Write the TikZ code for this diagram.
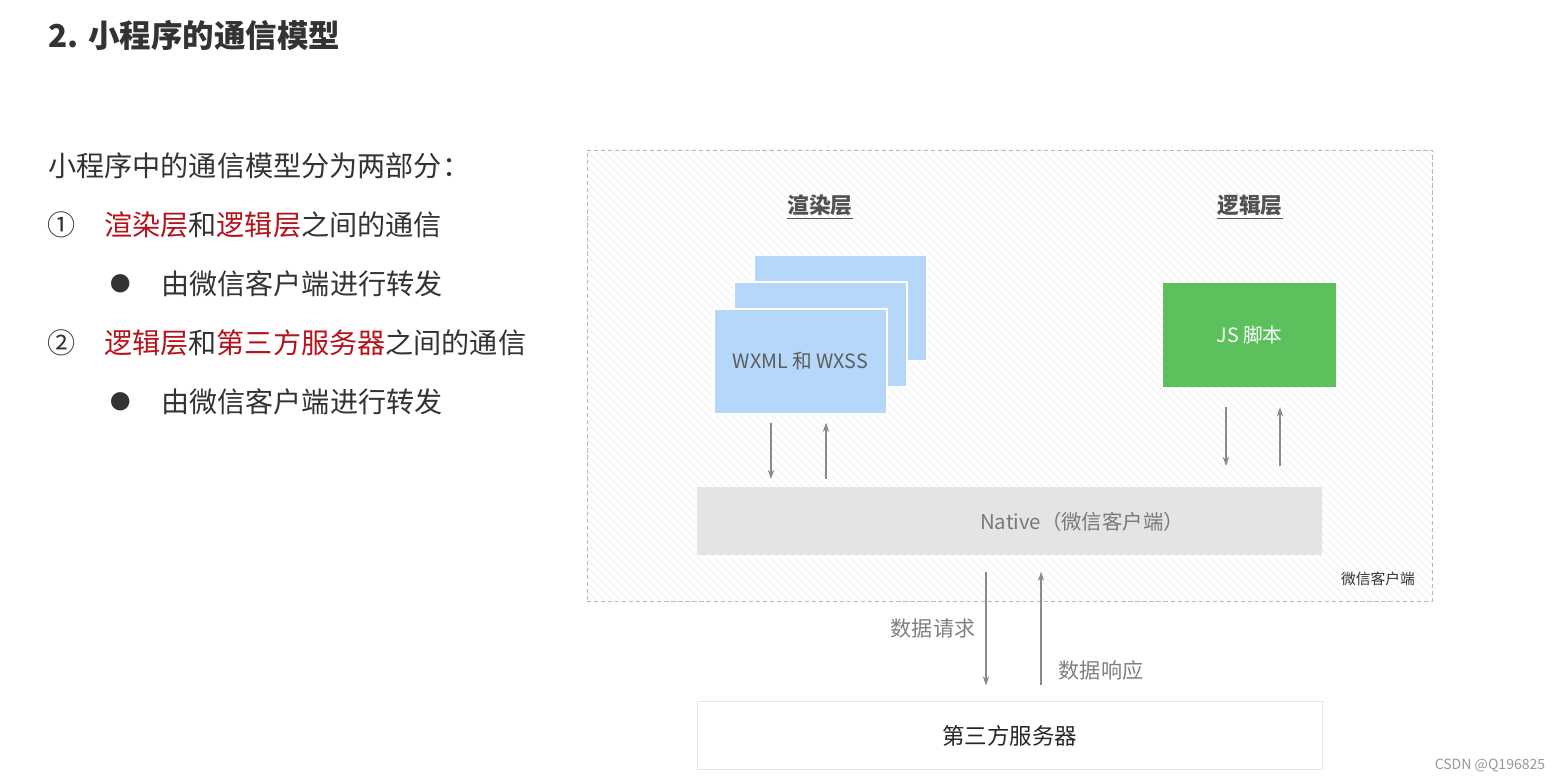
\documentclass[tikz,border=0pt]{standalone}
\usepackage{fontspec}
\setmainfont{Noto Sans CJK SC}
\usetikzlibrary{arrows.meta, positioning, patterns.meta}

\definecolor{txtgray}{HTML}{333333}
\definecolor{hlred}{HTML}{B5121B}
\definecolor{layerblue}{HTML}{B5D8FA}
\definecolor{jsgreen}{HTML}{5CC15D}
\definecolor{nativegray}{HTML}{E4E4E4}
\definecolor{arrowgray}{HTML}{8A8A8A}
\definecolor{hatchgray}{HTML}{E2E2E2}

\begin{document}
\begin{tikzpicture}[x=0.025cm, y=-0.025cm,
  every node/.style={inner sep=0pt, text=txtgray},
  heading/.style={anchor=west, font=\fontsize{22.4}{26}\selectfont\bfseries},
  body/.style={anchor=west, font=\fontsize{20}{24}\selectfont},
  bullet/.style={font=\fontsize{14.5}{17}\selectfont},
  layer/.style={font=\fontsize{15.5}{18}\selectfont\bfseries, text=txtgray!85},
  note/.style={font=\fontsize{15}{18}\selectfont, text=gray},
  card/.style={fill=layerblue, draw=white, line width=1.2pt,
               minimum width=123pt, minimum height=74.5pt},
  wide/.style={minimum width=444.5pt, minimum height=48pt},
  arrow/.style={-{Stealth[length=6.5pt, width=4.5pt]}, draw=arrowgray, line width=0.8pt}
]
  \useasboundingbox[fill=white] (0,0) rectangle (1560,783);

  % Text on the left
  \node[heading] (title) at (48,35) {2. 小程序的通信模型};
  \node[body] (intro) at (48,166) {小程序中的通信模型分为两部分：};
  \node[body] (num1)  at (47,225) {①};
  \node[body] (item1) at (104,225) {\textcolor{hlred}{渲染层}和\textcolor{hlred}{逻辑层}之间的通信};
  \node[bullet] (dot1) at (121,284) {●};
  \node[body] (sub1)  at (161,284) {由微信客户端进行转发};
  \node[body] (num2)  at (47,343) {②};
  \node[body] (item2) at (104,343) {\textcolor{hlred}{逻辑层}和\textcolor{hlred}{第三方服务器}之间的通信};
  \node[bullet] (dot2) at (121,402) {●};
  \node[body] (sub2)  at (161,402) {由微信客户端进行转发};

  % WeChat client frame
  \node[draw=gray!55, dashed, dash pattern=on 3pt off 2pt,
        pattern={Lines[angle=-45, distance=4pt, line width=0.4pt]}, pattern color=hatchgray,
        minimum width=601pt, minimum height=320.8pt] (client) at (1009.5,375.5) {};
  \node[font=\fontsize{10.5}{12}\selectfont] (clientlbl) at (1378,579) {微信客户端};

  % Layers
  \node[layer] (render) at (820,207) {\underline{渲染层}};
  \node[layer] (logic)  at (1250,207) {\underline{逻辑层}};

  \node[card] (back)   at (840.5,308) {};
  \node[card] (middle) at (820.5,334.5) {};
  \node[card, font=\fontsize{14}{16}\selectfont, text=txtgray!80] (front) at (800.5,361.5) {WXML 和 WXSS};

  \node[fill=jsgreen, minimum width=123pt, minimum height=74pt,
        font=\fontsize{14}{16}\selectfont, text=white] (js) at (1249.5,335) {JS 脚本};

  \node[wide, fill=nativegray] (native) at (1009.5,521) {};
  \node[font=\fontsize{14.5}{17}\selectfont, text=gray!95!black] (nativetxt) at (1082,522) {Native（微信客户端）};

  % Third-party server
  \node[wide, draw=gray!20, fill=white] (server) at (1009.5,735.5) {};
  \node[font=\fontsize{16}{19}\selectfont, text=black!85] (servertxt) at (1009.5,736) {第三方服务器};

  % Arrows
  \coordinate (xa) at (771,0);
  \coordinate (xb) at (826,0);
  \coordinate (xc) at (1226,0);
  \coordinate (xd) at (1280,0);
  \coordinate (xe) at (986,0);
  \coordinate (xf) at (1041,0);

  \draw[arrow, shorten <=5.7pt, shorten >=5.7pt] (front.south -| xa) -- (native.north -| xa);
  \draw[arrow, shorten <=5.7pt, shorten >=5.7pt] (native.north -| xb) -- (front.south -| xb);
  \draw[arrow, shorten <=14.2pt, shorten >=14.9pt] (js.south -| xc) -- (native.north -| xc);
  \draw[arrow, shorten <=14.9pt, shorten >=14.2pt] (native.north -| xd) -- (js.south -| xd);
  \draw[arrow, shorten <=12pt, shorten >=11.4pt] (native.south -| xe) -- (server.north -| xe);
  \draw[arrow, shorten <=11.4pt, shorten >=12pt] (server.north -| xf) -- (native.south -| xf);

  \node[note] (req) at (933,628)  {数据请求};
  \node[note] (res) at (1101,670) {数据响应};

  \node[font=\fontsize{10}{12}\selectfont, text=gray!80] (mark) at (1490,766) {CSDN @Q196825};
\end{tikzpicture}
\end{document}
